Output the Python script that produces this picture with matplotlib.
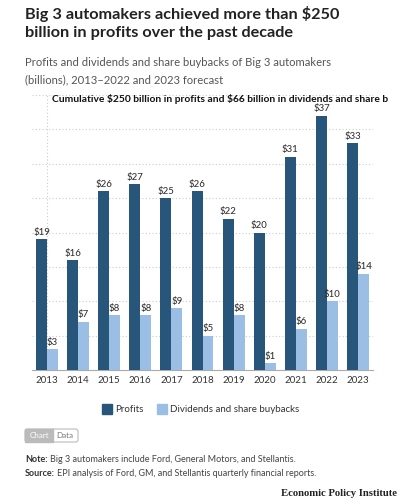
import matplotlib.pyplot as plt
from matplotlib.patches import FancyBboxPatch, Rectangle
from matplotlib.transforms import Bbox, TransformedBbox
import numpy as np

years = ['2013', '2014', '2015', '2016', '2017', '2018', '2019', '2020', '2021', '2022', '2023']
profits = [19, 16, 26, 27, 25, 26, 22, 20, 31, 37, 33]
dividends = [3, 7, 8, 8, 9, 5, 8, 1, 6, 10, 14]

dark = '#28557a'
light = '#9bbfe4'
txt = '#333333'

plt.rcParams['font.family'] = ['Lato', 'DejaVu Sans']

fig = plt.figure(figsize=(4.04, 5.04), dpi=100)

# titles
fig.text(25/404, 1 - 14/504, 'Big 3 automakers achieved more than $250', fontsize=11.7,
         fontweight='bold', color='#222222', va='center')
fig.text(25/404, 1 - 33/504, 'billion in profits over the past decade', fontsize=11.7,
         fontweight='bold', color='#222222', va='center')
fig.text(25/404, 1 - 63/504, 'Profits and dividends and share buybacks of Big 3 automakers',
         fontsize=8.1, color='#555555', va='center')
fig.text(25/404, 1 - 80/504, '(billions), 2013\u20132022 and 2023 forecast',
         fontsize=8.1, color='#555555', va='center')

ax = fig.add_axes([32/404, (504-370)/504, (373-32)/404, (370-95)/504])
x = np.arange(len(years))
w = 0.35
ax.bar(x - w/2, profits, w, color=dark, zorder=3)
ax.bar(x + w/2, dividends, w, color=light, zorder=3)

for i in range(len(years)):
    ax.text(x[i] - w/2, profits[i] + 0.35, '$%d' % profits[i], ha='center', va='bottom',
            fontsize=6.9, color=txt, fontweight='medium')
    ax.text(x[i] + w/2, dividends[i] + 0.35, '$%d' % dividends[i], ha='center', va='bottom',
            fontsize=6.9, color=txt, fontweight='medium')

ax.set_xlim(-0.48, 10.48)
ax.set_ylim(0, 40)
ax.set_yticks(range(5, 45, 5))
ax.yaxis.grid(True, linestyle=(0, (1, 2)), color='#cccccc', linewidth=0.8, zorder=0)
ax.tick_params(axis='y', length=0, labelleft=False)
ax.set_xticks(x)
ax.set_xticklabels(years, fontsize=7, color=txt)
ax.tick_params(axis='x', length=0, pad=4)
for s in ['top', 'right', 'left']:
    ax.spines[s].set_visible(False)
ax.spines['bottom'].set_color('#aaaaaa')
ax.spines['bottom'].set_linewidth(0.8)
ax.axvline(0, color='#cccccc', linestyle=(0, (1, 2)), linewidth=0.8, zorder=1)

# annotation, cut off on the right like the original
ann = fig.text(52/404, 1 - 99/504,
               'Cumulative $250 billion in profits and $66 billion in dividends and share buybacks',
               fontsize=7.35, fontweight='bold', color='#111111', va='center', parse_math=False)
ann.set_clip_on(True)
ann.set_clip_box(TransformedBbox(Bbox([[0, 0], [388/404, 1]]), fig.transFigure))

# legend
fig.patches.append(Rectangle((102/404, 1 - 414/504), 10/404, 10/504, color=dark,
                             transform=fig.transFigure, figure=fig))
fig.text(115/404, 1 - 409/504, 'Profits', fontsize=7, color=txt, va='center')
fig.patches.append(Rectangle((157/404, 1 - 414/504), 10/404, 10/504, color=light,
                             transform=fig.transFigure, figure=fig))
fig.text(170/404, 1 - 409/504, 'Dividends and share buybacks', fontsize=7, color=txt, va='center')

# chart / data buttons
fig.patches.append(FancyBboxPatch((25/404, 1 - 442/504), 53/404, 13/504,
                                  boxstyle='round,pad=0,rounding_size=0.005',
                                  facecolor='white', edgecolor='#bbbbbb', linewidth=0.8,
                                  transform=fig.transFigure, figure=fig))
fig.patches.append(Rectangle((25/404, 1 - 442/504), 28/404, 13/504, color='#bbbbbb',
                             transform=fig.transFigure, figure=fig))
fig.text(39/404, 1 - 435.5/504, 'Chart', fontsize=5.8, color='white', ha='center', va='center')
fig.text(65/404, 1 - 435.5/504, 'Data', fontsize=5.8, color='#777777', ha='center', va='center')

# notes
fig.text(25/404, 1 - 459/504, 'Note:', fontsize=6.5, color='#333333', va='center', fontweight='bold')
fig.text(50/404, 1 - 459/504, 'Big 3 automakers include Ford, General Motors, and Stellantis.',
         fontsize=6.5, color='#444444', va='center')
fig.text(25/404, 1 - 474/504, 'Source:', fontsize=6.5, color='#333333', va='center', fontweight='bold')
fig.text(57/404, 1 - 474/504, 'EPI analysis of Ford, GM, and Stellantis quarterly financial reports.',
         fontsize=6.5, color='#444444', va='center')
fig.text(397/404, 1 - 493/504, 'Economic Policy Institute', fontsize=7.7, fontweight='bold',
         family='Liberation Serif', color='#222222', ha='right', va='center')

fig.savefig('out.png', dpi=100)
